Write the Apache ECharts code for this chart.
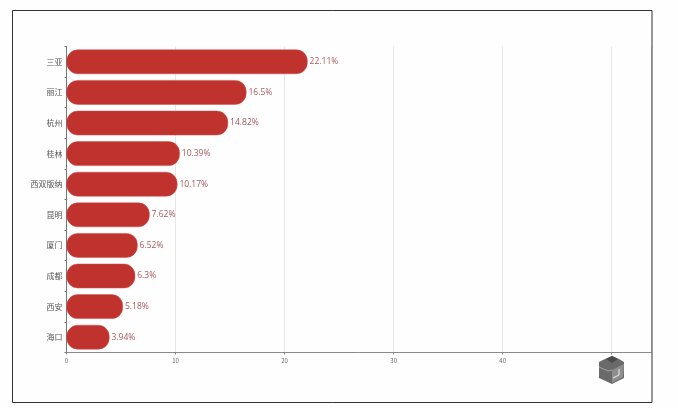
<!DOCTYPE html>
<html><head><meta charset="utf-8">
<style>html,body{margin:0;padding:0;background:#fff}#c{width:678px;height:408px}</style>
<script src="https://cdn.jsdelivr.net/npm/echarts@6/dist/echarts.min.js"></script>
</head><body><div id="c"></div>
<script>
const categories = ['海口','西安','成都','厦门','昆明','西双版纳','桂林','杭州','丽江','三亚'];
const values = [3.94,5.18,6.3,6.52,7.62,10.17,10.39,14.82,16.5,22.11];
const chart = echarts.init(document.getElementById('c'), null, {renderer:'canvas'});
const font = '"Noto Sans CJK SC","Liberation Sans",sans-serif';
chart.setOption({
  animation:false,
  backgroundColor:'#fefefe',
  grid:{left:66.5,right:27,top:46.5,bottom:55.5,containLabel:false},
  xAxis:{type:'value',min:0,max:53.6,interval:10,
    axisLine:{show:true,lineStyle:{color:'#8a8a8a',width:1}},
    axisTick:{show:true,length:2,lineStyle:{color:'#888'}},
    axisLabel:{color:'#666',fontSize:6,margin:5,fontFamily:font,showMaxLabel:false,formatter:v=>v===50?'':v},
    splitLine:{show:true,lineStyle:{color:'#e6e6e6',width:1}}},
  yAxis:{type:'category',data:categories,
    axisLine:{show:true,lineStyle:{color:'#777',width:1}},
    axisTick:{show:true,length:2,lineStyle:{color:'#777'}},
    axisLabel:{color:'#555',fontSize:8,margin:4,fontFamily:font}},
  series:[{type:'bar',data:values,barWidth:24.5,
    itemStyle:{color:'#c0322e',borderRadius:11,borderColor:'#cc4c48',borderWidth:0.5},
    label:{show:true,position:'right',distance:2,color:'#a8585c',fontSize:8.5,fontFamily:'"Open Sans",sans-serif',formatter:p=>p.value+'%'}}],
  graphic:[
    {type:'rect',z:10,shape:{x:12.5,y:10.5,width:639.5,height:392},style:{fill:'none',stroke:'#333',lineWidth:1}},
    {type:'group',z:11,children:[
      {type:'polygon',shape:{points:[[612,356],[619,359],[624,362],[624,378],[612,384],[599,378],[599,362],[605,359]]},style:{fill:'#6a6a6a'}},
      {type:'polygon',shape:{points:[[612,356],[618,359],[612,363],[606,359]]},style:{fill:'#4a4a4a'}},
      {type:'polygon',shape:{points:[[612,370],[624,364],[623,377],[612,383]]},style:{fill:'#8e8e8e'}},
      {type:'polyline',shape:{points:[[619,369],[619,375],[613,378]]},style:{stroke:'#eee',fill:'none',lineWidth:1}},
      {type:'polyline',shape:{points:[[599,367],[608,371],[612,370]]},style:{stroke:'#bbb',fill:'none',lineWidth:0.7}}
    ]}
  ]
});
</script></body></html>
